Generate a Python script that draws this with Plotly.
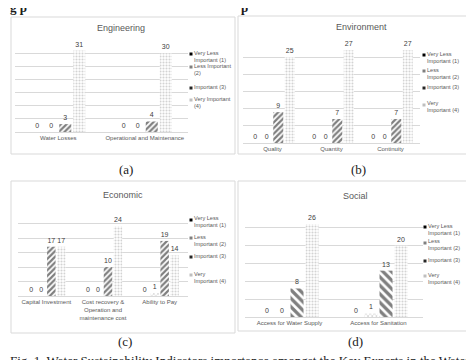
import plotly.graph_objects as go

W, H = 474, 360

# ---------------- data ----------------
series_names = ["Very Less Important (1)", "Less Important (2)", "Important (3)", "Very Important (4)"]

eng_cats = ["Water Losses", "Operational and Maintenance"]
eng_vli = [0, 0]
eng_li = [0, 0]
eng_imp = [3, 4]
eng_vimp = [31, 30]

env_cats = ["Quality", "Quantity", "Continuity"]
env_vli = [0, 0, 0]
env_li = [0, 0, 0]
env_imp = [9, 7, 7]
env_vimp = [25, 27, 27]

eco_cats = ["Capital Investment", "Cost recovery &<br>Operation and<br>maintenance cost", "Ability to Pay"]
eco_vli = [0, 0, 0]
eco_li = [0, 0, 1]
eco_imp = [17, 10, 19]
eco_vimp = [17, 24, 14]

soc_cats = ["Access for Water Supply", "Access for Sanitation"]
soc_vli = [0, 0]
soc_li = [0, 1]
soc_imp = [8, 13]
soc_vimp = [26, 20]

legend_a = ["Very Less<br>Important (1)", "Less Important<br>(2)", "Important (3)", "Very Important<br>(4)"]
legend_b = ["Very Less<br>Important (1)", "Less<br>Important (2)", "Important (3)", "Very<br>Important (4)"]

# ---------------- helpers ----------------
def px(x):
    return x / W

def py(y):
    return 1 - y / H

GRAY = "#595959"
GRID = "#d9d9d9"
SANS = "Liberation Sans, Arial, sans-serif"
SERIF = "Liberation Serif, Times New Roman, serif"

panels = [
    dict(n="", title="Engineering", cats=eng_cats, vals=[eng_vli, eng_li, eng_imp, eng_vimp],
         dom_x=(7, 180), dom_y=(124, 32), rng=35, slot=0.162, bw=0.139, hatch="/",
         title_xy=(113, 20), box=(3, 9, 227, 146), leg=legend_a,
         leg_x=(183, 186), leg_y=[46, 59, 80, 92]),
    dict(n="2", title="Environment", cats=env_cats, vals=[env_vli, env_li, env_imp, env_vimp],
         dom_x=(235, 412), dom_y=(135, 32), rng=30, slot=0.195, bw=0.17, hatch="/",
         title_xy=(353, 19), box=(230, 8, 476, 146), leg=legend_b,
         leg_x=(416, 419), leg_y=[47, 63, 80, 97]),
    dict(n="3", title="Economic", cats=eco_cats, vals=[eco_vli, eco_li, eco_imp, eco_vimp],
         dom_x=(10, 180), dom_y=(288, 201), rng=30, slot=0.176, bw=0.15, hatch="/",
         title_xy=(115, 187), box=(3, 173, 227, 325), leg=legend_b,
         leg_x=(183, 186), leg_y=[212, 230, 249, 267]),
    dict(n="4", title="Social", cats=soc_cats, vals=[soc_vli, soc_li, soc_imp, soc_vimp],
         dom_x=(237, 415), dom_y=(309, 202), rng=30, slot=0.169, bw=0.146, hatch="\\",
         title_xy=(347, 188), box=(230, 173, 476, 323), leg=legend_b,
         leg_x=(417, 420), leg_y=[219, 235, 253, 268]),
]

icon_colors = ["#000000", "#7f7f7f", "#262626", "#bfbfbf"]

fig = go.Figure()
layout = dict(
    width=W, height=H, margin=dict(l=0, r=0, t=0, b=0),
    paper_bgcolor="white", plot_bgcolor="white",
    showlegend=False, barmode="group",
    colorway=[GRAY],
    font=dict(family=SANS, color=GRAY, size=6),
)
annotations = []
shapes = []

for p in panels:
    n = p["n"]
    s, w = p["slot"], p["bw"]
    patterns = [
        dict(shape="|", fgcolor="#000000", bgcolor="white", size=3, solidity=0.4),
        dict(shape="x", fgcolor="#7f7f7f", bgcolor="white", size=3, solidity=0.3),
        dict(shape=p["hatch"], fgcolor="#000000", bgcolor="white",
             size=4 if p["hatch"] == "/" else 6, solidity=0.55),
        dict(shape=".", fgcolor="#a8a8a8", bgcolor="white", size=3, solidity=0.4),
    ]
    lab_font = dict(size=7, color="#404040", family=SANS)
    for i in range(4):
        fig.add_trace(go.Bar(
            x=p["cats"], y=p["vals"][i], name=series_names[i],
            xaxis="x" + n, yaxis="y" + n,
            offset=(i - 2) * s + (s - w) / 2, width=w,
            marker=dict(color="white", pattern=patterns[i], line=dict(width=0)),
            text=[str(v) for v in p["vals"][i]], textposition="outside", constraintext="none",
            textfont=lab_font, outsidetextfont=lab_font, insidetextfont=lab_font,
            cliponaxis=False, showlegend=False,
        ))
    layout["xaxis" + n] = dict(
        domain=[px(p["dom_x"][0]), px(p["dom_x"][1])], anchor="y" + n,
        type="category", showgrid=False, showline=True, linecolor=GRID, linewidth=1,
        ticks="", tickfont=dict(size=6, color=GRAY, family=SANS), fixedrange=True,
    )
    layout["yaxis" + n] = dict(
        domain=[py(p["dom_y"][0]), py(p["dom_y"][1])], anchor="x" + n,
        range=[0, p["rng"] + 0.01], dtick=5, showgrid=True, gridcolor=GRID, gridwidth=1,
        showticklabels=False, zeroline=False, showline=False, ticks="", fixedrange=True,
    )
    # title
    annotations.append(dict(x=px(p["title_xy"][0]), y=py(p["title_xy"][1]), xref="paper", yref="paper",
                            text=p["title"], showarrow=False, xanchor="center", yanchor="middle",
                            font=dict(size=9, color=GRAY, family=SANS)))
    # panel border
    bx0, by0, bx1, by1 = p["box"]
    shapes.append(dict(type="rect", xref="paper", yref="paper",
                       x0=px(bx0), x1=px(bx1), y0=py(by1), y1=py(by0),
                       line=dict(color=GRID, width=1), fillcolor="rgba(0,0,0,0)", layer="below"))
    # legend (text + small icons)
    ix, tx = p["leg_x"]
    for i in range(4):
        yy = p["leg_y"][i]
        annotations.append(dict(x=px(tx), y=py(yy - 4.5), xref="paper", yref="paper",
                                text=p["leg"][i], showarrow=False, xanchor="left", yanchor="top",
                                align="left", borderpad=0, borderwidth=0,
                                font=dict(size=5.6, color=GRAY, family=SANS)))
        shapes.append(dict(type="rect", xref="paper", yref="paper",
                           x0=px(ix - 1.5), x1=px(ix + 1.5), y0=py(yy + 1.5), y1=py(yy - 1.5),
                           line=dict(width=0), fillcolor=icon_colors[i]))

# sub-figure captions
for lab, x, y in [("(a)", 118, 162), ("(b)", 350, 162), ("(c)", 117, 333), ("(d)", 347, 333)]:
    annotations.append(dict(x=px(x), y=py(y), xref="paper", yref="paper", text=lab,
                            showarrow=False, xanchor="center", yanchor="middle",
                            font=dict(size=13, color="#1a1a1a", family=SERIF)))

# figure caption (cut off at the bottom edge)
annotations.append(dict(x=px(1), y=py(344), xref="paper", yref="paper",
                        text="Fig. 1. Water Sustainability Indicators importance amongst the Key Experts in the Water Industry (a)",
                        showarrow=False, xanchor="left", yanchor="top", borderpad=0,
                        font=dict(size=13, color="#1a1a1a", family=SERIF)))
# remnants of the line above (cut off at the top edge)
annotations.append(dict(x=px(1), y=py(8), xref="paper", yref="paper", text="<b>g p</b>",
                        showarrow=False, xanchor="left", yanchor="bottom", borderpad=0,
                        font=dict(size=13, color="#1a1a1a", family=SERIF)))
annotations.append(dict(x=px(232), y=py(8), xref="paper", yref="paper", text="<b>p</b>",
                        showarrow=False, xanchor="left", yanchor="bottom", borderpad=0,
                        font=dict(size=13, color="#1a1a1a", family=SERIF)))

layout["annotations"] = annotations
layout["shapes"] = shapes
fig.update_layout(**layout)
fig.write_html("out.html")
